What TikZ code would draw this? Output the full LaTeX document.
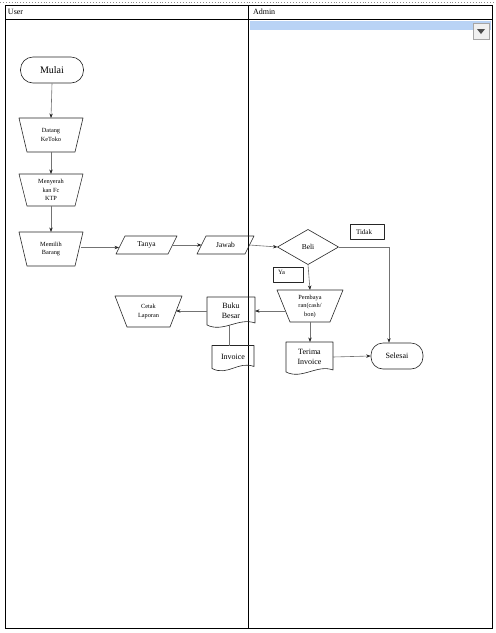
\documentclass[tikz,border=0pt]{standalone}
\usepackage{fontspec}
\setmainfont{Liberation Serif}
\usetikzlibrary{calc,arrows.meta}
\definecolor{barblue}{RGB}{185,211,245}
\tikzset{
  txt/.style={inner sep=0pt, outer sep=0pt, align=center},
  shp/.style={draw=black!85, line width=0.6pt, line join=round},
  conn/.style={draw=black!55, line width=0.6pt, -{Stealth[length=4.5pt,width=3.4pt,color=black!85]}},
  plainline/.style={draw=black!55, line width=0.6pt},
  frame/.style={draw=black, line width=0.85pt},
  f6/.style={font=\fontsize{6.3}{8.5}\selectfont},
  f7/.style={font=\fontsize{7.5}{10}\selectfont},
  f8/.style={font=\fontsize{8}{10.5}\selectfont},
}
% trapezoid, wide side on top: name, centre, width, height, inset, text, font style
\newcommand\mytrap[7]{%
  \node[txt,#7, minimum width=#3pt, minimum height=#4pt] (#1) at (#2) {#6};
  \draw[shp] (#1.north west) -- (#1.north east) -- ([xshift=-#5pt]#1.south east) -- ([xshift=#5pt]#1.south west) -- cycle;}
% parallelogram: name, centre, width, height, slant, text
\newcommand\mypara[6]{%
  \node[txt,f7, minimum width=#3pt, minimum height=#4pt] (#1) at (#2) {#6};
  \draw[shp] ([xshift=#5pt]#1.north west) -- (#1.north east) -- ([xshift=-#5pt]#1.south east) -- (#1.south west) -- cycle;}
% document: name, centre, width, height, text
\newcommand\mydoc[5]{%
  \node[txt,f8, minimum width=#3pt, minimum height=#4pt] (#1) at (#2) {#5};
  \draw[shp] (#1.south west) -- (#1.north west) -- (#1.north east) -- ([yshift=2pt]#1.south east)
     .. controls +(-16pt,6pt) and +(16pt,-8pt) .. (#1.south west);}
\begin{document}
\begin{tikzpicture}[x=1pt,y=-1pt]
\useasboundingbox (0,0) rectangle (496,633);
\fill[white] (0,0) rectangle (496,633);
% top dotted line
\draw[black!45, line width=0.9pt, dotted] (0,2) -- (496,2);
% swimlane frame
\draw[frame] (5,5) rectangle (492,628);
\draw[frame] (5,19) -- (492,19);
\draw[frame] (248,5) -- (248,628);
\node[txt, f8, anchor=west] (user) at (8,12) {User};
\node[txt, f8, anchor=west] (admin) at (253,12) {Admin};
% selection bar and dropdown button
\fill[barblue] (249.5,21) rectangle (491,30);
\node[draw=black!35, fill=black!6, minimum width=16pt, minimum height=16pt, inner sep=0pt] (btn) at (481,31) {};
\fill[black!70] ([xshift=-4pt,yshift=2pt]btn.center) -- ([xshift=4pt,yshift=2pt]btn.center) -- ([yshift=-3pt]btn.center) -- cycle;

% user lane
\node[shp, rounded corners=12.5pt, minimum width=63pt, minimum height=26pt, inner sep=0pt,
      font=\fontsize{10}{12}\selectfont] (mulai) at (52,70) {Mulai};
\mytrap{datang}{51,135}{64}{34}{8}{Datang\\KeToko}{f6}
\mytrap{menyerah}{51,190}{64}{32}{8}{Menyerah\\kan Fc\\KTP}{f6}
\mytrap{memilih}{51,249}{64}{34}{8}{Memilih\\Barang}{f6}
\mypara{tanya}{146.5,245}{61}{18}{9}{Tanya}
\mypara{jawab}{225.5,245}{57}{18}{9}{Jawab}
\mytrap{cetak}{148.5,311.5}{67}{31}{12}{Cetak\\Laporan}{f6}
\mydoc{buku}{231,311}{48}{28}{Buku\\Besar}
\mydoc{invoice}{233,357}{42}{23}{Invoice}

% admin lane
\node[txt, minimum width=61pt, minimum height=35pt] (beli) at (308,247) {\fontsize{7.5}{9}\selectfont Beli};
\draw[shp] (beli.west) -- (beli.north) -- (beli.east) -- (beli.south) -- cycle;
\node[shp, anchor=north west, minimum width=34pt, minimum height=15pt, inner sep=0pt] (tidak) at (350,224) {};
\node[txt, anchor=west] (tidaktxt) at ([xshift=6pt]tidak.west) {\fontsize{7}{9}\selectfont Tidak};
\node[shp, anchor=north west, minimum width=30pt, minimum height=15pt, inner sep=0pt] (ya) at (273,267) {};
\node[txt, anchor=west] (yatxt) at ([xshift=5pt,yshift=2pt]ya.west) {\fontsize{6.5}{8}\selectfont Ya};
\mytrap{bayar}{310,306}{66}{32}{13}{Pembaya\\ran(cash/\\bon)}{f6}
\mydoc{terima}{309.5,357}{47}{30}{Terima\\Invoice}
\node[shp, rounded corners=12pt, minimum width=52pt, minimum height=26pt, inner sep=0pt, f8] (selesai) at (397,356) {Selesai};
\coordinate (bend) at (389,247);

% connectors
\draw[conn] (mulai.south) -- (datang.north);
\draw[conn] (datang.south) -- (menyerah.north);
\draw[conn] (menyerah.south) -- (memilih.north);
\draw[conn] ([xshift=-2pt]memilih.east |- 0,247.5) -- ([xshift=3pt]tanya.west |- 0,247.5);
\draw[conn] ([xshift=-4.5pt]tanya.east) -- ([xshift=4.5pt]jawab.west);
\draw[conn] ([xshift=-4.5pt]jawab.east) -- (beli.west);
\draw[conn] (beli.south) -- (bayar.north);
\draw[plainline] (beli.east) -- (bend);
\draw[conn] (bend) -- (bend |- selesai.north);
\draw[conn] ([xshift=8pt]bayar.west |- buku.east) -- (buku.east);
\draw[conn] (buku.west) -- ([xshift=-6pt]cetak.east |- buku.west);
\draw[plainline] ([xshift=-2pt]buku.south) -- ([xshift=-2pt]buku.south |- invoice.north);
\draw[conn] (bayar.south) -- (bayar.south |- terima.north);
\draw[conn] (terima.east) -- (selesai.west);
\end{tikzpicture}
\end{document}
